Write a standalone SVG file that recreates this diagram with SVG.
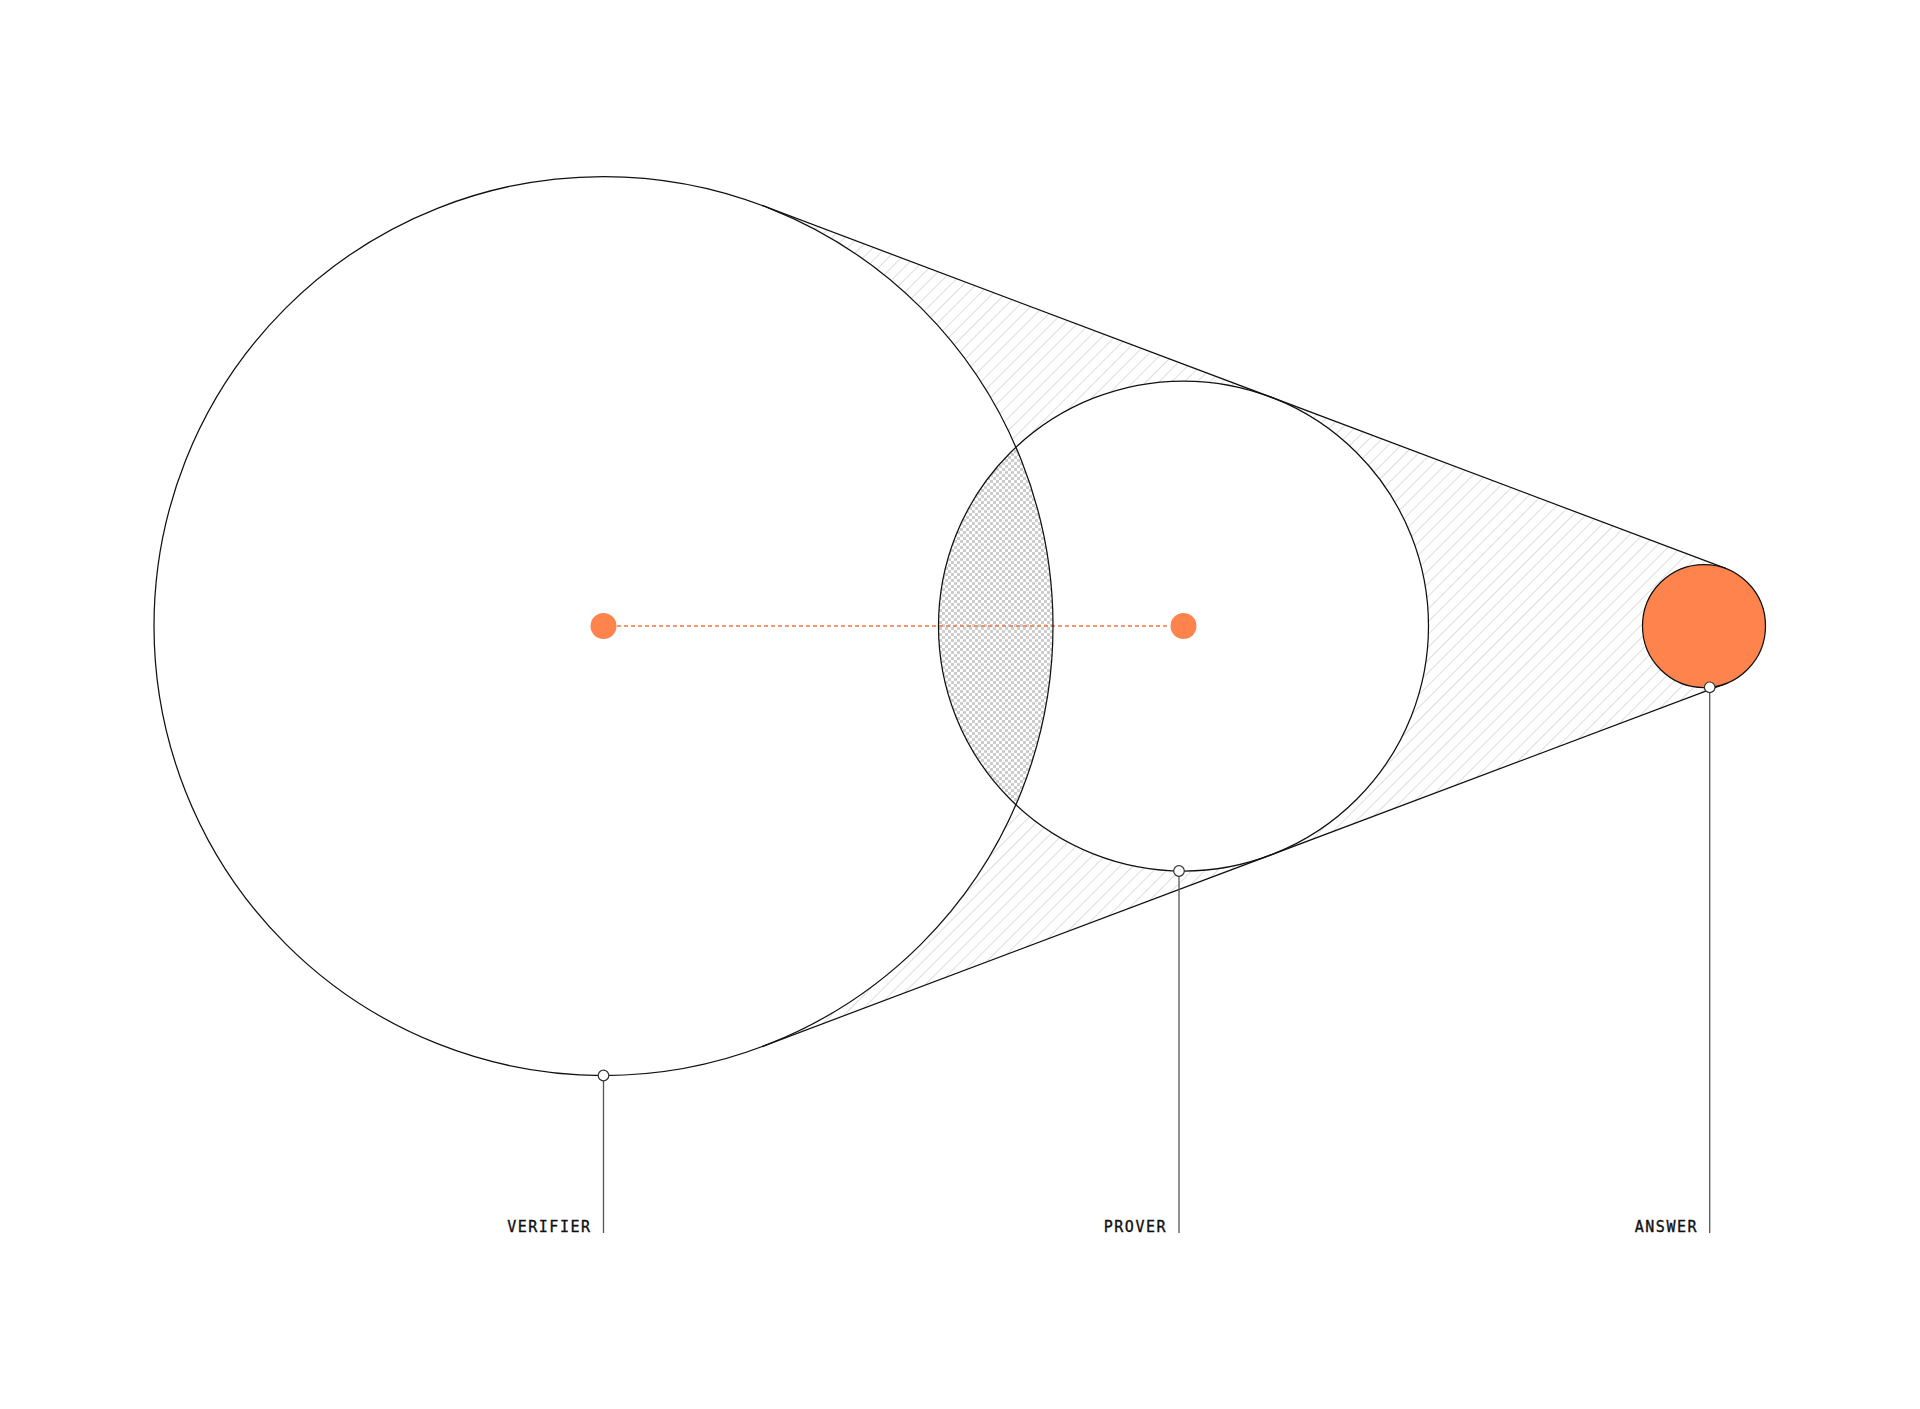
<svg xmlns="http://www.w3.org/2000/svg" width="1920" height="1409" viewBox="0 0 1920 1409">
<style>
.ring{fill:none;stroke:#111;stroke-width:1.25}
.tan{stroke:#111;stroke-width:1.25;fill:none}
.lead{stroke:#555;stroke-width:1.3}
.mark{fill:#fff;stroke:#333;stroke-width:1.2}
.dot{fill:#FF834D}
.lbl{font-family:"DejaVu Sans Mono","Liberation Mono",monospace;font-size:15px;letter-spacing:1.5px;fill:#111;stroke:#111;stroke-width:0.35;text-anchor:end}
</style>
<defs>
<pattern id="hatch" patternUnits="userSpaceOnUse" width="9" height="9" patternTransform="rotate(45)">
<line x1="0" y1="0" x2="0" y2="9" stroke="#bdbdbd" stroke-width="1"/>
</pattern>
<pattern id="check" patternUnits="userSpaceOnUse" width="6" height="6">
<rect x="0" y="0" width="3" height="3" fill="#cdcdcd"/>
<rect x="3" y="3" width="3" height="3" fill="#cdcdcd"/>
</pattern>
<clipPath id="bigClip"><circle cx="603.5" cy="626" r="449.5"/></clipPath>
</defs>
<rect width="1920" height="1409" fill="#fff"/>
<g id="cone">
<polygon points="762,205.4 1725.7,568.4 1725.7,683.6 762,1046.6" fill="url(#hatch)"/>
</g>
<g id="verifier">
<circle cx="603.5" cy="626" r="449.5" fill="#fff"/>
</g>
<g id="prover">
<circle cx="1183.5" cy="626" r="245" fill="#fff"/>
<circle cx="1183.5" cy="626" r="245" fill="url(#check)" clip-path="url(#bigClip)"/>
</g>
<g id="connectors">
<line class="tan" x1="762" y1="205.4" x2="1725.7" y2="568.4"/>
<line class="tan" x1="762" y1="1046.6" x2="1725.7" y2="683.6"/>
<line x1="617" y1="626" x2="1170" y2="626" stroke="#F0773F" stroke-width="1.6" stroke-dasharray="4 3"/>
<line class="lead" x1="603.5" y1="1075.5" x2="603.5" y2="1233"/>
<line class="lead" x1="1179" y1="871" x2="1179" y2="1233"/>
<line class="lead" x1="1709.7" y1="687.3" x2="1709.7" y2="1233"/>
</g>
<g id="verifier-ring"><circle class="ring" cx="603.5" cy="626" r="449.5"/></g>
<g id="prover-ring"><circle class="ring" cx="1183.5" cy="626" r="245"/></g>
<g id="answer">
<circle cx="1704" cy="626" r="61.5" fill="#FF834D" stroke="#111" stroke-width="1.25"/>
</g>
<g id="verifier-dot"><circle class="dot" cx="603.5" cy="626" r="13"/></g>
<g id="prover-dot"><circle class="dot" cx="1183.5" cy="626" r="13"/></g>
<g id="markers">
<circle class="mark" cx="603.5" cy="1075.5" r="5.3"/>
<circle class="mark" cx="1179" cy="871" r="5.3"/>
<circle class="mark" cx="1709.7" cy="687.3" r="5.3"/>
</g>
<g id="labels">
<text class="lbl" x="591.5" y="1232">VERIFIER</text>
<text class="lbl" x="1167" y="1232">PROVER</text>
<text class="lbl" x="1698" y="1232">ANSWER</text>
</g>
</svg>
